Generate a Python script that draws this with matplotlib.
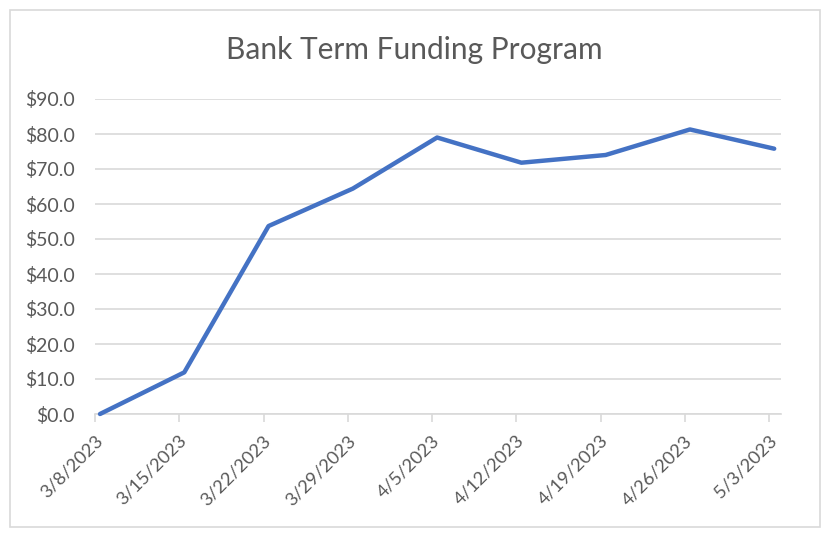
import matplotlib.pyplot as plt
from matplotlib.patches import Rectangle
from matplotlib.transforms import ScaledTranslation

## data
dates = ["3/8/2023", "3/15/2023", "3/22/2023", "3/29/2023", "4/5/2023",
         "4/12/2023", "4/19/2023", "4/26/2023", "5/3/2023"]
btfp = [0.0, 11.9, 53.7, 64.4, 79.0, 71.8, 74.0, 81.3, 75.8]
yticks = [0, 10, 20, 30, 40, 50, 60, 70, 80, 90]

## style
plt.rcParams['font.family'] = ['Lato', 'DejaVu Sans']
txt = "#595959"
grid = "#D9D9D9"
blue = "#4472C4"

fig = plt.figure(figsize=(8.3, 5.38), dpi=100)
fig.patches.append(Rectangle((10/830, 11/538), 810/830, 517/538, transform=fig.transFigure,
                             fill=False, edgecolor=grid, lw=1.2))

ax = fig.add_axes([95/830, 124/538, 686/830, 315/538])
x = list(range(len(dates)))
# excel draws the series a few px right of the tick marks
line_shift = ScaledTranslation(5/100, 0, fig.dpi_scale_trans)
ax.plot(x, btfp, color=blue, lw=3.2, solid_capstyle='round', solid_joinstyle='round',
        zorder=3, transform=ax.transData + line_shift, clip_on=False)

ax.set_xlim(0, 8.14)
ax.set_ylim(0, 90)
ax.set_yticks(yticks)
ax.set_yticklabels(["${:.1f}".format(v) for v in yticks], color=txt, fontsize=14)
ax.set_xticks(x)
ax.tick_params(axis='y', length=0, pad=14.5)
ax.tick_params(axis='x', length=6, color=grid, width=1.2, pad=7)
ax.set_xticklabels(dates, rotation=45, ha='right', va='center', rotation_mode='anchor',
                   color=txt, fontsize=13.2)
# nudge the date labels a bit right/down like excel does (after tick_params, it resets them)
shift = ScaledTranslation(5/100, -6/100, fig.dpi_scale_trans)
for lab in ax.get_xticklabels():
    lab.set_transform(lab.get_transform() + shift)
ax.grid(axis='y', color=grid, lw=1.2)
ax.set_axisbelow(True)
for s in ['top', 'right', 'left']:
    ax.spines[s].set_visible(False)
ax.spines['bottom'].set_color(grid)
ax.spines['bottom'].set_linewidth(1.2)

fig.text(414/830, 1 - 50/538, "Bank Term Funding Program", ha='center', va='center',
         color=txt, fontsize=21.5)

fig.savefig("out.png", dpi=100)
